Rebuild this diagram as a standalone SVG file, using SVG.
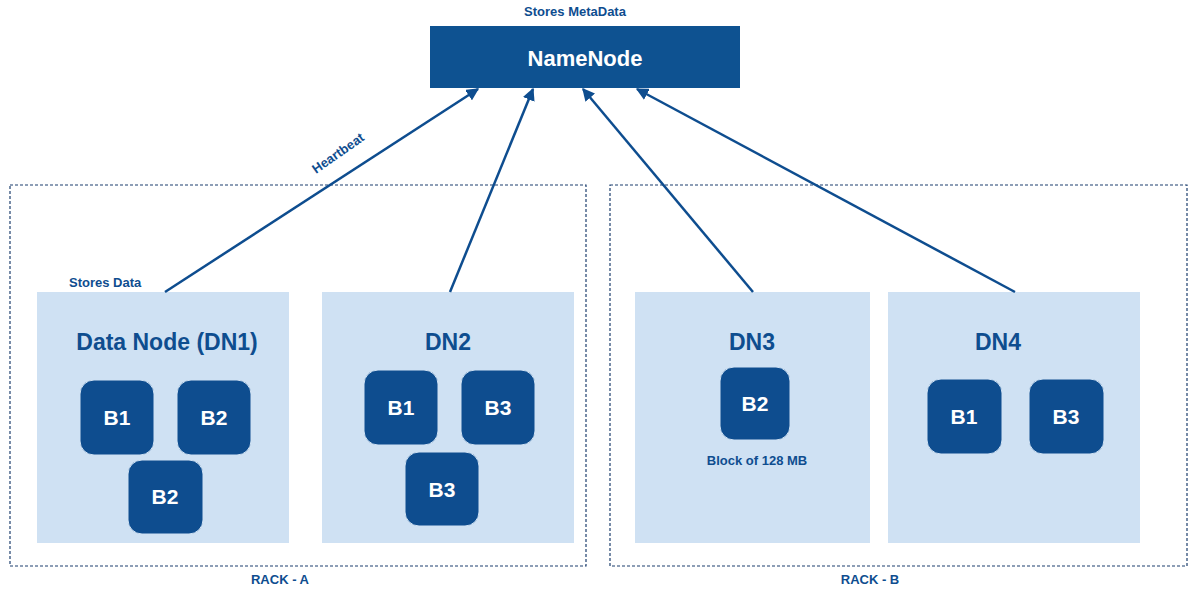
<svg xmlns="http://www.w3.org/2000/svg" width="1200" height="596" viewBox="0 0 1200 596">
<style>
text{font-family:"Liberation Sans",Arial,sans-serif;font-weight:bold}
.lbl{fill:#0e4d8f;font-size:13px}
.dn{fill:#cfe1f3}
.title{fill:#0e4d8f;font-size:23px;text-anchor:middle}
.blk{fill:#0e4d8f;stroke:#cfe1f3;stroke-width:1}
.bt{fill:#fff;font-size:21px;text-anchor:middle}
.rack{fill:none;stroke:#1d3f6e;stroke-width:1.2;stroke-dasharray:3 2}
.conn{stroke:#0e4d8f;stroke-width:2.5;fill:none;marker-end:url(#ah)}
</style>
<defs><marker id="ah" viewBox="0 0 10 10" refX="9" refY="5" markerWidth="5" markerHeight="5" orient="auto"><path d="M0,0L10,5L0,10z" fill="#0e4d8f"/></marker></defs>
<rect width="1200" height="596" fill="#fff"/>
<g id="rackA"><rect class="rack" x="10" y="185" width="576" height="381"/><text class="lbl" x="280" y="584" text-anchor="middle">RACK - A</text></g>
<g id="rackB"><rect class="rack" x="610" y="185" width="577" height="381"/><text class="lbl" x="870" y="584" text-anchor="middle">RACK - B</text></g>
<g id="namenode"><text class="lbl" x="575" y="16" text-anchor="middle">Stores MetaData</text><rect x="430" y="26" width="310" height="62" fill="#0e5291"/><text x="585" y="66" fill="#fff" font-size="22" text-anchor="middle">NameNode</text></g>
<g id="dn1"><text class="lbl" x="69" y="287">Stores Data</text><rect class="dn" x="37" y="292" width="252" height="251"/><text class="title" x="167" y="350">Data Node (DN1)</text>
<rect class="blk" x="80" y="380" width="74" height="75" rx="14"/><text class="bt" x="117" y="425">B1</text>
<rect class="blk" x="177" y="380" width="74" height="75" rx="14"/><text class="bt" x="214" y="425">B2</text>
<rect class="blk" x="128" y="460" width="75" height="74" rx="14"/><text class="bt" x="165" y="504">B2</text></g>
<g id="dn2"><rect class="dn" x="322" y="292" width="252" height="251"/><text class="title" x="448" y="350">DN2</text>
<rect class="blk" x="364" y="370" width="74" height="75" rx="14"/><text class="bt" x="401" y="415">B1</text>
<rect class="blk" x="461" y="370" width="74" height="75" rx="14"/><text class="bt" x="498" y="415">B3</text>
<rect class="blk" x="405" y="452" width="74" height="74" rx="14"/><text class="bt" x="442" y="497">B3</text></g>
<g id="dn3"><rect class="dn" x="635" y="292" width="235" height="251"/><text class="title" x="752" y="350">DN3</text>
<rect class="blk" x="720" y="367" width="70" height="73" rx="14"/><text class="bt" x="755" y="411">B2</text>
<text class="lbl" x="757" y="465" text-anchor="middle">Block of 128 MB</text></g>
<g id="dn4"><rect class="dn" x="888" y="292" width="252" height="251"/><text class="title" x="998" y="350">DN4</text>
<rect class="blk" x="927" y="379" width="75" height="75" rx="14"/><text class="bt" x="964" y="424">B1</text>
<rect class="blk" x="1029" y="379" width="75" height="75" rx="14"/><text class="bt" x="1066" y="424">B3</text></g>
<g id="connectors">
<line class="conn" x1="165" y1="292" x2="478" y2="89"/>
<line class="conn" x1="450" y1="292" x2="533" y2="89"/>
<line class="conn" x1="753" y1="292" x2="583" y2="89"/>
<line class="conn" x1="1015" y1="292" x2="637" y2="89"/>
<text class="lbl" x="0" y="0" transform="translate(316,174) rotate(-35)">Heartbeat</text>
</g>
</svg>
